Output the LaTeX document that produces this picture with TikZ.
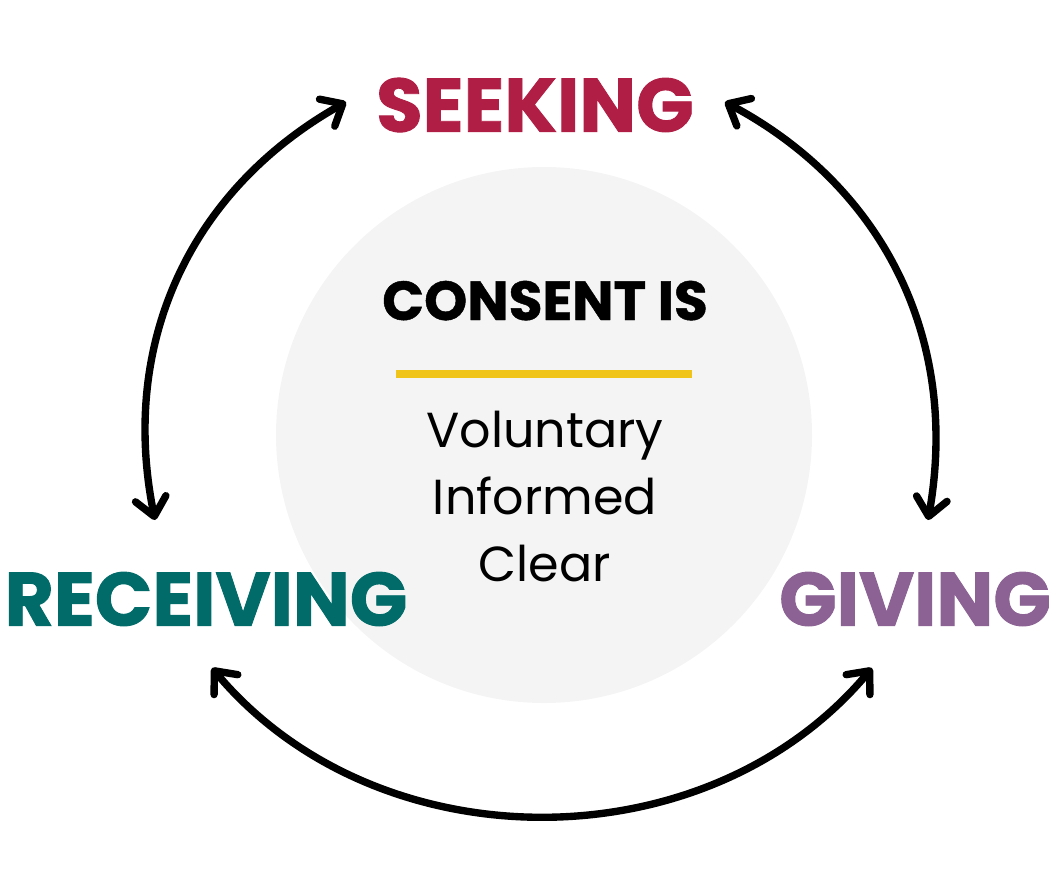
\documentclass[tikz,border=0pt]{standalone}
\usepackage{fontspec}
\setmainfont{Poppins}
\usetikzlibrary{arrows.meta}

\definecolor{seekRed}{HTML}{B01E45}
\definecolor{recvTeal}{HTML}{006B68}
\definecolor{giveLilac}{HTML}{8B6293}
\definecolor{discGray}{HTML}{F4F4F4}
\definecolor{barGold}{HTML}{F1C41A}

\begin{document}
\begin{tikzpicture}[x=0.02cm, y=-0.02cm,
    role/.style={font=\fontsize{43}{43}\selectfont\bfseries\addfontfeatures{FakeBold=1.2}, inner sep=0pt},
    head/.style={font=\fontsize{31.3}{31.3}\selectfont\bfseries\addfontfeatures{FakeBold=0.8}, inner sep=0pt, anchor=base},
    item/.style={font=\fontsize{28}{28}\selectfont, inner sep=0pt, anchor=base},
    arr/.style={{Straight Barb[length=3.6mm, width=6.2mm, round]}-{Straight Barb[length=3.6mm, width=6.2mm, round]},
                line width=4.2pt, line cap=round},
]
\useasboundingbox (0,0) rectangle (1058,887);

% --- centre disc ---
\fill[discGray] (544,435) circle[radius=268];

\node[head] (title) at (545,320) {CONSENT IS};
\draw[barGold, line width=0.155cm] (396,374) -- (692,374);

\node[item] (vol) at (545,447) {Voluntary};
\node[item] (inf) at (545,514) {Informed};
\node[item] (clr) at (545,581) {Clear};

% --- roles ---
\node[role, text=seekRed] (seek) at (535,105) {SEEKING};
\node[role, text=recvTeal] (recv) at (206,599) {RECEIVING};
\node[role, text=giveLilac] (give) at (915,599) {GIVING};

% arrow ends
\coordinate (seekL) at (346,102);
\coordinate (seekR) at (725,102);
\coordinate (recvT) at (155,520);
\coordinate (recvB) at (212,668);
\coordinate (giveT) at (928,520);
\coordinate (giveB) at (872,668);

\draw[arr] (recvT) to[bend left=36] (seekL);
\draw[arr] (seekR) to[bend left=36] (giveT);
\draw[arr] (recvB) to[bend right=50] (giveB);

\end{tikzpicture}
\end{document}
